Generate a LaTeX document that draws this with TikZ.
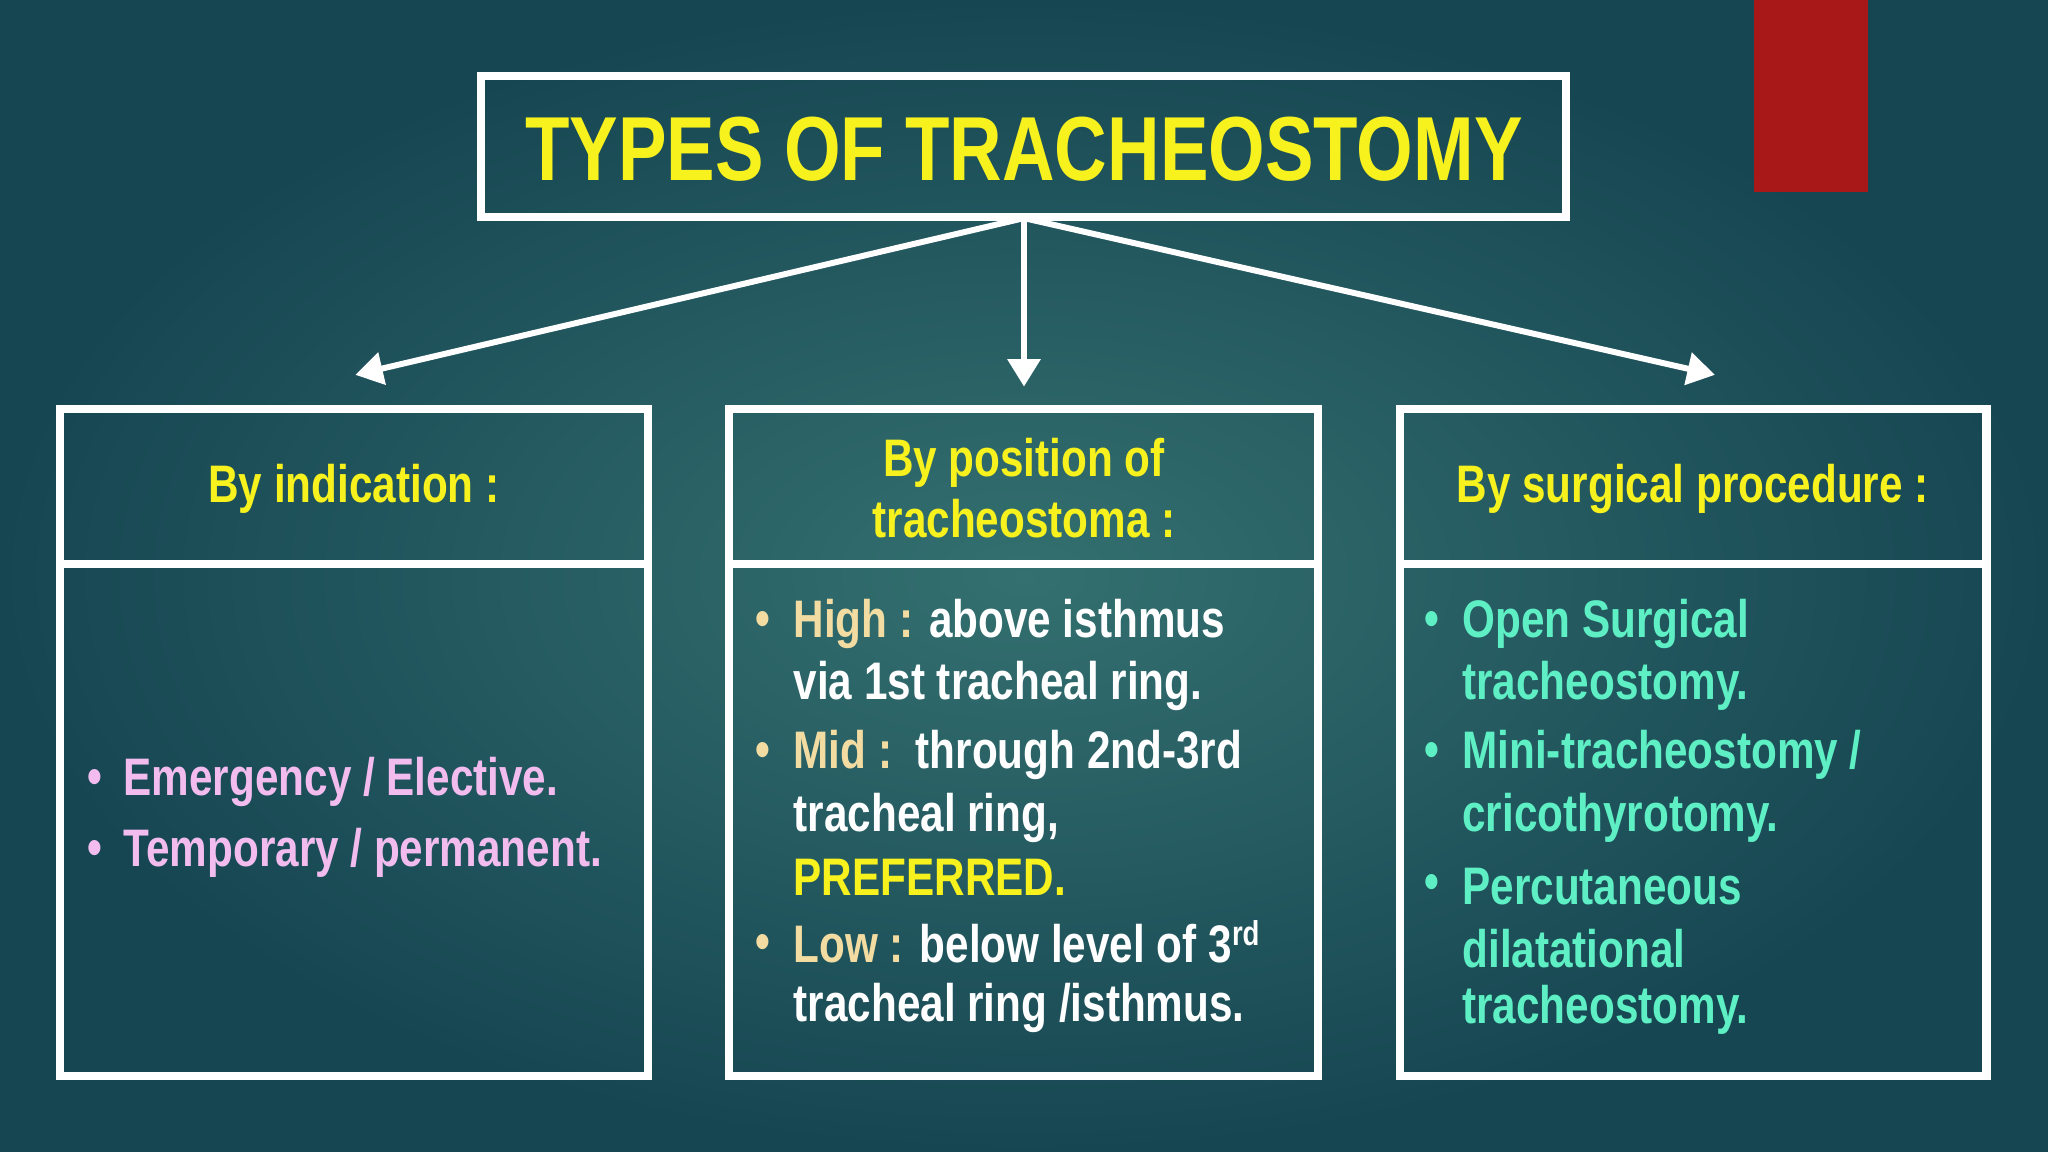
\documentclass[tikz,border=0pt]{standalone}
\usepackage{fontspec}
\setmainfont[FakeStretch=0.8]{Liberation Sans}
\usetikzlibrary{arrows.meta}
\definecolor{ttl}{HTML}{F7F21E}
\definecolor{pinkt}{HTML}{F2BCEE}
\definecolor{tant}{HTML}{F2DCA2}
\definecolor{aqua}{HTML}{5EF0C4}
\definecolor{redb}{HTML}{A81818}
\begin{document}
\begin{tikzpicture}[x=0.01cm,y=-0.01cm,
  frame/.style={draw=white,line width=1.8pt},
  conn/.style={draw=white,line width=1.3pt,-{Triangle[length=6pt,width=7pt]}},
  hdr/.style={text=ttl,font=\bfseries\fontsize{11.5}{13.3}\selectfont,align=center},
  body/.style={anchor=west,font=\bfseries\fontsize{11.5}{13}\selectfont,inner sep=0pt},
  bul/.style={anchor=west,font=\bfseries\fontsize{11.5}{13}\selectfont,inner sep=0pt}]
\useasboundingbox (0,0) rectangle (1568,882);
\shade[inner color={rgb,255:red,52;green,112;blue,112},outer color={rgb,255:red,22;green,70;blue,82}] (0,0) rectangle (1568,882);
\fill[redb] (1343,0) rectangle (1430,147);
\draw[frame] (368,58) rectangle (1199,166);
\node[text=ttl,font=\bfseries\fontsize{19.8}{22}\selectfont] (tt) at (784,114) {TYPES OF TRACHEOSTOMY};
\coordinate (T) at (784,167);
\coordinate (L) at (272,287);
\coordinate (M) at (784,296);
\coordinate (R) at (1313,287);
\draw[conn] (T) -- (L);
\draw[conn] (T) -- (M);
\draw[conn] (T) -- (R);
% boxes
\draw[frame] (46,313) rectangle (496,824);
\draw[frame] (46,432) -- (496,432);
\draw[frame] (558,313) rectangle (1009,824);
\draw[frame] (558,432) -- (1009,432);
\draw[frame] (1072,313) rectangle (1521,824);
\draw[frame] (1072,432) -- (1521,432);
\node[hdr] (h1) at (271,374) {By indication :};
\node[hdr] (h2) at (784,374) {By position of\\tracheostoma :};
\node[hdr] (h3) at (1296,374) {By surgical procedure :};
% left
\node[bul,text=pinkt] (lb1) at (66,599) {\textbullet};
\node[body,text=pinkt] (l1) at (94,599) {Emergency / Elective.};
\node[bul,text=pinkt] (lb2) at (66,653) {\textbullet};
\node[body,text=pinkt] (l2) at (94,653) {Temporary / permanent.};
% middle
\node[bul,text=tant] (mb1) at (578,478) {\textbullet};
\node[body,text=white] (m1) at (607,478) {\textcolor{tant}{High :} above isthmus};
\node[body,text=white] (m2) at (607,525) {via 1st tracheal ring.};
\node[bul,text=tant] (mb2) at (578,578) {\textbullet};
\node[body,text=white] (m3) at (607,578) {\textcolor{tant}{Mid :}\ \ through 2nd-3rd};
\node[body,text=white] (m4) at (607,626) {tracheal ring,};
\node[body,text=ttl] (m5) at (607,672) {PREFERRED.};
\node[bul,text=tant] (mb3) at (578,725) {\textbullet};
\node[body,text=white,anchor=base west] (m6) at (607,737) {\textcolor{tant}{Low :} below level of 3\raisebox{0.6ex}{\fontsize{7.5}{8}\selectfont rd}};
\node[body,text=white] (m7) at (607,772) {tracheal ring /isthmus.};
% right
\node[bul,text=aqua] (rb1) at (1090,478) {\textbullet};
\node[body,text=aqua] (r1) at (1119,478) {Open Surgical};
\node[body,text=aqua] (r2) at (1119,525) {tracheostomy.};
\node[bul,text=aqua] (rb2) at (1090,578) {\textbullet};
\node[body,text=aqua] (r3) at (1119,578) {Mini-tracheostomy /};
\node[body,text=aqua] (r4) at (1119,626) {cricothyrotomy.};
\node[bul,text=aqua] (rb3) at (1090,679) {\textbullet};
\node[body,text=aqua] (r5) at (1119,679) {Percutaneous};
\node[body,text=aqua] (r6) at (1119,726) {dilatational};
\node[body,text=aqua] (r7) at (1119,773) {tracheostomy.};
\end{tikzpicture}
\end{document}
